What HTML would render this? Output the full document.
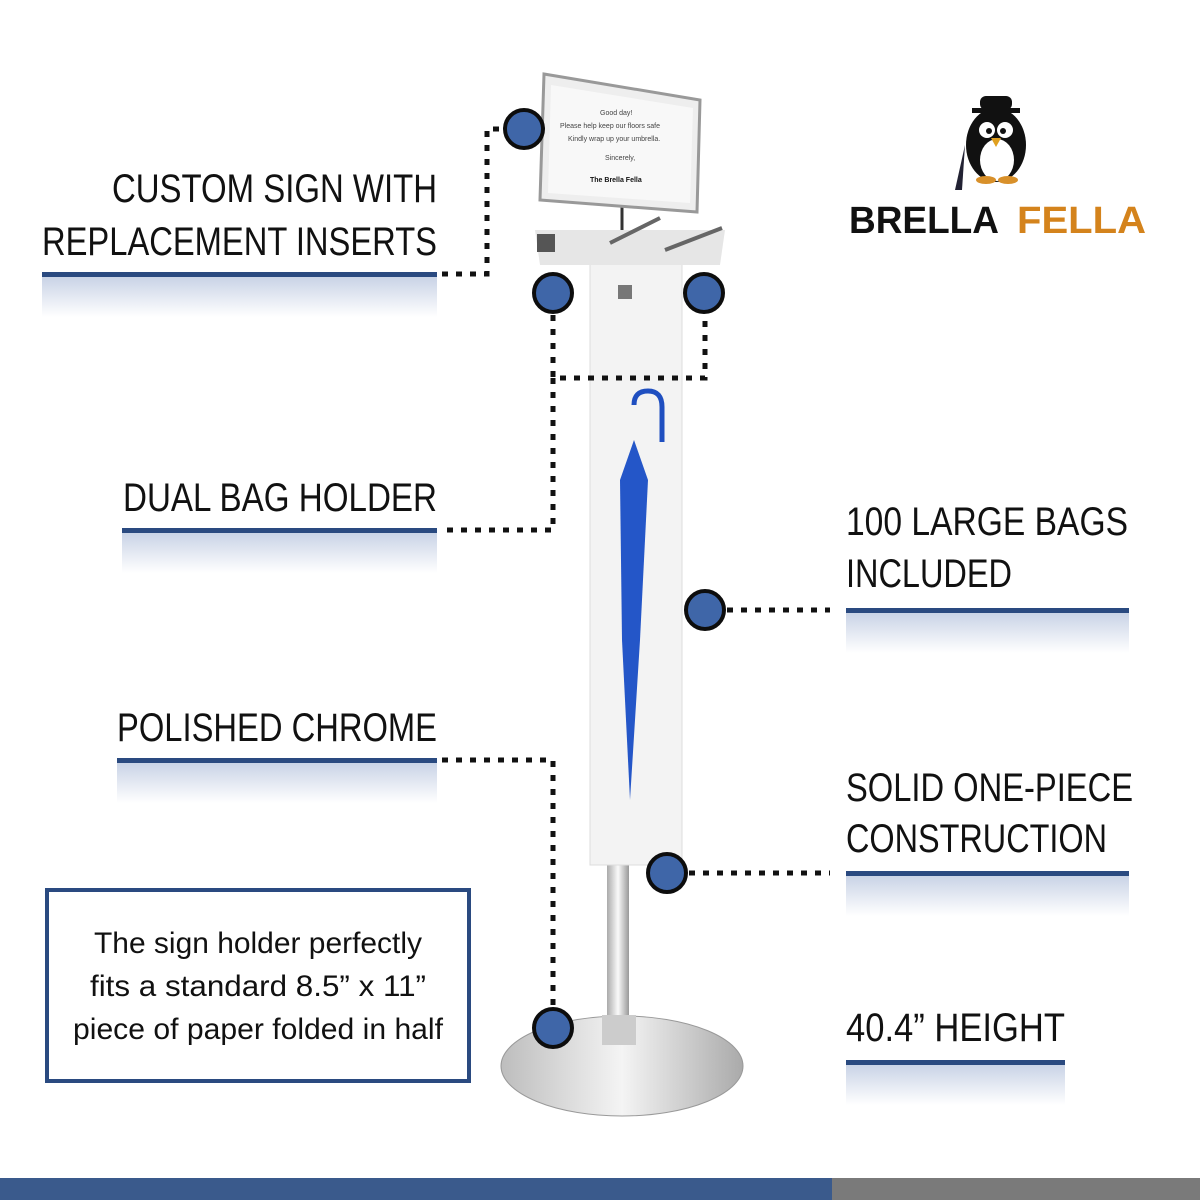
<!DOCTYPE html>
<html><head><meta charset="utf-8"><style>
html,body{margin:0;padding:0;background:#fff;}
svg{display:block}
.l{font-family:"Liberation Sans Narrow","Liberation Sans",sans-serif;font-size:40px;fill:#111}
.b{font-family:"Liberation Sans Narrow","Liberation Sans",sans-serif;font-size:30px;fill:#111}
.d{stroke:#111;stroke-width:5;stroke-dasharray:6 8;fill:none}
.c{fill:#3f66a8;stroke:#0d0d0d;stroke-width:4}
</style></head><body>
<svg width="1200" height="1200" viewBox="0 0 1200 1200" xmlns="http://www.w3.org/2000/svg">
<defs>
<linearGradient id="f" x1="0" y1="0" x2="0" y2="1"><stop offset="0" stop-color="#c9d3e6"/><stop offset="1" stop-color="#fff"/></linearGradient>
<linearGradient id="base" x1="0" y1="0" x2="1" y2="0"><stop offset="0" stop-color="#bdbdbd"/><stop offset=".5" stop-color="#f4f4f4"/><stop offset="1" stop-color="#aaa"/></linearGradient>
<linearGradient id="pole" x1="0" y1="0" x2="1" y2="0"><stop offset="0" stop-color="#aaa"/><stop offset=".5" stop-color="#fafafa"/><stop offset="1" stop-color="#999"/></linearGradient>
</defs>
<!-- product -->
<ellipse cx="622" cy="1066" rx="121" ry="50" fill="url(#base)" stroke="#999"/>
<rect x="607" y="860" width="22" height="175" fill="url(#pole)"/>
<rect x="602" y="1015" width="34" height="30" fill="#ccc"/>
<rect x="590" y="245" width="92" height="620" fill="#f3f3f3" stroke="#ddd"/>
<rect x="618" y="285" width="14" height="14" fill="#777"/>
<path d="M535 230 L725 230 L720 265 L540 265Z" fill="#e6e6e6"/>
<rect x="537" y="234" width="18" height="18" fill="#555"/>
<line x1="610" y1="243" x2="660" y2="218" stroke="#666" stroke-width="4"/>
<line x1="665" y1="250" x2="722" y2="228" stroke="#666" stroke-width="4"/>
<line x1="622" y1="205" x2="622" y2="230" stroke="#333" stroke-width="3"/>
<path d="M544 74 L700 100 L697 212 L540 200Z" fill="#eee" stroke="#999" stroke-width="3"/>
<path d="M551 85 L693 108 L690 203 L548 193Z" fill="#f8f8f8"/>
<g font-family="Liberation Sans" font-size="7" fill="#444"><text x="600" y="115">Good day!</text><text x="560" y="128">Please help keep our floors safe</text><text x="568" y="141">Kindly wrap up your umbrella.</text><text x="605" y="160">Sincerely,</text><text x="590" y="182" font-weight="bold" fill="#111">The Brella Fella</text></g>
<path d="M634 405 q0-14 14-14 q14 0 14 16 l0 35" stroke="#1f4fc0" stroke-width="5" fill="none"/>
<path d="M634 440 L620 480 L622 640 L630 800 L640 640 L648 480 Z" fill="#2456c8"/>
<!-- dotted connectors -->
<path class="d" d="M442 274 H487 V129 H504"/>
<path class="d" d="M553 315 V378 H705 V315"/>
<path class="d" d="M553 378 V530 H442"/>
<path class="d" d="M727 610 H830"/>
<path class="d" d="M689 873 H830"/>
<path class="d" d="M442 760 H553 V1006"/>
<circle class="c" cx="524" cy="129" r="19"/>
<circle class="c" cx="553" cy="293" r="19"/>
<circle class="c" cx="704" cy="293" r="19"/>
<circle class="c" cx="705" cy="610" r="19"/>
<circle class="c" cx="667" cy="873" r="19"/>
<circle class="c" cx="553" cy="1028" r="19"/>
<!-- labels left -->
<text class="l" x="437" y="202" text-anchor="end" textLength="325" lengthAdjust="spacingAndGlyphs">CUSTOM SIGN WITH</text>
<text class="l" x="437" y="255" text-anchor="end" textLength="395" lengthAdjust="spacingAndGlyphs">REPLACEMENT INSERTS</text>
<rect x="42" y="272" width="395" height="5" fill="#2a4a80"/><rect x="42" y="277" width="395" height="40" fill="url(#f)"/>
<text class="l" x="437" y="511" text-anchor="end" textLength="314" lengthAdjust="spacingAndGlyphs">DUAL BAG HOLDER</text>
<rect x="122" y="528" width="315" height="5" fill="#2a4a80"/><rect x="122" y="533" width="315" height="40" fill="url(#f)"/>
<text class="l" x="437" y="741" text-anchor="end" textLength="320" lengthAdjust="spacingAndGlyphs">POLISHED CHROME</text>
<rect x="117" y="758" width="320" height="5" fill="#2a4a80"/><rect x="117" y="763" width="320" height="40" fill="url(#f)"/>
<!-- labels right -->
<text class="l" x="846" y="535" textLength="282" lengthAdjust="spacingAndGlyphs">100 LARGE BAGS</text>
<text class="l" x="846" y="587" textLength="166" lengthAdjust="spacingAndGlyphs">INCLUDED</text>
<rect x="846" y="608" width="283" height="5" fill="#2a4a80"/><rect x="846" y="613" width="283" height="40" fill="url(#f)"/>
<text class="l" x="846" y="801" textLength="287" lengthAdjust="spacingAndGlyphs">SOLID ONE-PIECE</text>
<text class="l" x="846" y="852" textLength="261" lengthAdjust="spacingAndGlyphs">CONSTRUCTION</text>
<rect x="846" y="871" width="283" height="5" fill="#2a4a80"/><rect x="846" y="876" width="283" height="40" fill="url(#f)"/>
<text class="l" x="846" y="1041" textLength="219" lengthAdjust="spacingAndGlyphs">40.4” HEIGHT</text>
<rect x="846" y="1060" width="219" height="5" fill="#2a4a80"/><rect x="846" y="1065" width="219" height="40" fill="url(#f)"/>
<!-- box -->
<rect x="47" y="890" width="422" height="191" fill="#fff" stroke="#2a4a80" stroke-width="4"/>
<text class="b" x="258" y="953" text-anchor="middle" textLength="328" lengthAdjust="spacingAndGlyphs">The sign holder perfectly</text>
<text class="b" x="258" y="996" text-anchor="middle" textLength="336" lengthAdjust="spacingAndGlyphs">fits a standard 8.5” x 11”</text>
<text class="b" x="258" y="1039" text-anchor="middle" textLength="370" lengthAdjust="spacingAndGlyphs">piece of paper folded in half</text>
<!-- logo -->
<ellipse cx="996" cy="145" rx="30" ry="37" fill="#111"/>
<ellipse cx="997" cy="160" rx="17" ry="21" fill="#fff"/>
<circle cx="987" cy="130" r="8" fill="#fff"/><circle cx="1005" cy="130" r="8" fill="#fff"/>
<circle cx="989" cy="131" r="3" fill="#111"/><circle cx="1003" cy="131" r="3" fill="#111"/>
<path d="M991 138 L1001 138 L996 147Z" fill="#e0a020"/>
<rect x="980" y="96" width="32" height="14" rx="6" fill="#111"/><rect x="972" y="108" width="48" height="5" fill="#111"/>
<ellipse cx="986" cy="180" rx="10" ry="4" fill="#d8902a"/><ellipse cx="1008" cy="180" rx="10" ry="4" fill="#d8902a"/>
<path d="M965 145 L955 190 L962 190Z" fill="#223"/>
<text x="849" y="233" font-family="Liberation Sans" font-weight="bold" font-size="38" fill="#111" textLength="150" lengthAdjust="spacingAndGlyphs">BRELLA</text>
<text x="1017" y="233" font-family="Liberation Sans" font-weight="bold" font-size="38" fill="#d4831c" textLength="129" lengthAdjust="spacingAndGlyphs">FELLA</text>
<!-- bottom bar -->
<rect x="0" y="1178" width="832" height="22" fill="#3a5a8c"/>
<rect x="832" y="1178" width="368" height="22" fill="#7a7a7a"/>
</svg>
</body></html>
